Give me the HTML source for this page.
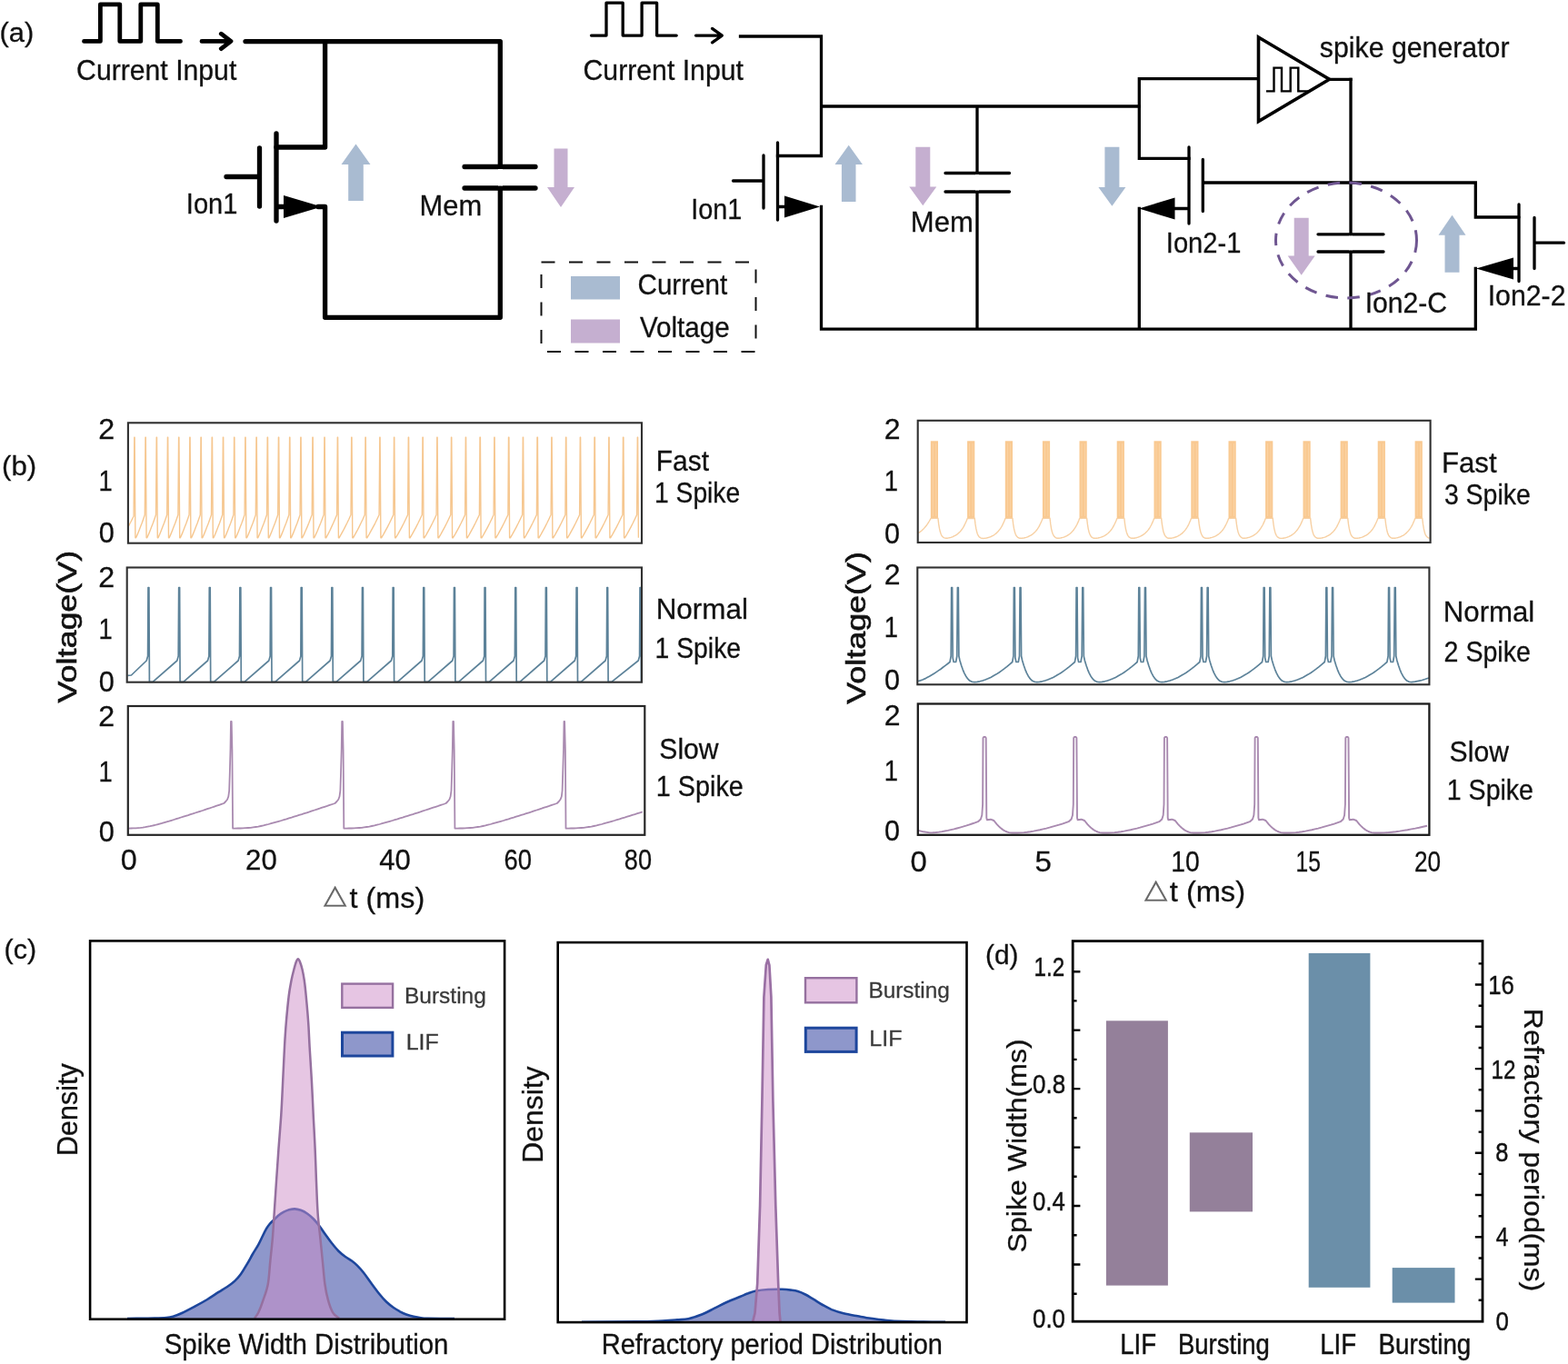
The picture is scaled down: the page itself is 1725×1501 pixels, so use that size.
<!DOCTYPE html>
<html><head><meta charset="utf-8"><title>Figure</title>
<style>
html,body{margin:0;padding:0;background:#fff;}
body{width:1725px;height:1501px;overflow:hidden;}
svg{display:block;font-family:"Liberation Sans","DejaVu Sans",sans-serif;}
</style></head><body>
<svg width="1725" height="1501" viewBox="0 0 1725 1501">
<rect width="1725" height="1501" fill="#fff"/>
<g id="panel-a" stroke-linejoin="miter" stroke-linecap="butt">
<path d="M92.5 45.4H110.4V4.8H131.8V45.4H154.8V4.8H173.3V45.4H198.5" stroke="#000" stroke-width="4.8" fill="none" stroke-linecap="round" stroke-linejoin="round"/>
<path d="M222 45.4H253.5 M243.3 37.2L254 45.4L243.3 53.6" stroke="#000" stroke-width="4.8" fill="none" stroke-linecap="round" stroke-linejoin="round"/>
<path d="M270 45.6H550.3V183.5 M357.6 45.6V162H304 M550.3 207V349.3H357.6V227.5H350" stroke="#000" stroke-width="5.3" fill="none" stroke-linecap="round" stroke-linejoin="round"/>
<path d="M304 147V243 M285.5 163V227 M249 194.5H285.5 M304 227.5H314" stroke="#000" stroke-width="5.3" fill="none" stroke-linecap="round"/>
<path d="M312 215L354 227.5L312 240Z" fill="#000"/>
<path d="M511 183.5H589 M511 207H589" stroke="#000" stroke-width="5.3" fill="none" stroke-linecap="round"/>
<path d="M391.5 158.5L407.5 181.0L399.8 181.0L399.8 221.0L383.2 221.0L383.2 181.0L375.5 181.0Z" fill="#a9bbd1"/>
<path d="M617.0 228.0L632.0 206.0L624.5 206.0L624.5 163.5L609.5 163.5L609.5 206.0L602.0 206.0Z" fill="#c5afd0"/>
<rect x="595.5" y="288.5" width="236" height="98.5" fill="none" stroke="#111" stroke-width="2" stroke-dasharray="15 15.5"/>
<rect x="628" y="304" width="54" height="25.5" fill="#a9bbd1"/>
<rect x="628" y="351.5" width="54" height="26" fill="#c5afd0"/>
<path d="M650.5 39.1H667V3.2H685.2V39.1H706.1V3.2H722.6V39.1H744.2" stroke="#000" stroke-width="3.3" fill="none" stroke-linecap="round" stroke-linejoin="round"/>
<path d="M765.5 39.1H794 M783.5 31.4L794.3 39.1L783.5 46.8" stroke="#000" stroke-width="3.3" fill="none" stroke-linecap="round" stroke-linejoin="round"/>
<path d="M814.5 40H903.5V171.5H855.5 M903.5 117H1253.3 M1075 117V190.5 M1075 211V362.2 M903.5 227.5V362.2H1623.3V295.5 M1253.3 229.5V362.2 M1486 87.3V362.2" stroke="#000" stroke-width="3.3" fill="none" stroke-linecap="square"/>
<path d="M1253.3 174.4V86.7H1384 M1253.3 174.4H1308 M1462 87.3H1486" stroke="#000" stroke-width="3.3" fill="none" stroke-linecap="square"/>
<path d="M855.5 157V242 M840 171V229 M806.5 199H840 M855.5 227.5H865" stroke="#000" stroke-width="3.3" fill="none" stroke-linecap="round"/>
<path d="M863 215.5L902 227.5L863 239.5Z" fill="#000"/>
<path d="M1040 190.5H1110.5 M1040 211H1110.5" stroke="#000" stroke-width="3.3" fill="none" stroke-linecap="round"/>
<path d="M1308 162V246 M1323.3 175.5V232.5 M1323.3 201H1623.3V239H1671 M1292 229.5H1308" stroke="#000" stroke-width="3.3" fill="none" stroke-linecap="round" stroke-linejoin="miter"/>
<path d="M1292.5 217.5L1253 229.5L1292.5 241.5Z" fill="#000"/>
<path d="M1384.5 41L1462.5 87.3L1384.5 133.5Z" stroke="#000" stroke-width="3.6" fill="none" stroke-linejoin="miter"/>
<path d="M1393 100.4H1401.5V74.6H1410V100.4H1419.7V74.6H1428.3V100.4H1439" stroke="#000" stroke-width="2.4" fill="none"/>
<path d="M1450 257.8H1522 M1450 277H1522" stroke="#000" stroke-width="3.3" fill="none" stroke-linecap="round"/>
<rect x="1484" y="259.4" width="4" height="16" fill="#fff"/>
<ellipse cx="1481" cy="264.5" rx="77.5" ry="63.5" fill="none" stroke="#6f5691" stroke-width="3" stroke-dasharray="13.5 10.5"/>
<path d="M1671 225V309.5 M1688 239.5V295.5 M1688 267.2H1720.5 M1664 295.5H1671" stroke="#000" stroke-width="3.3" fill="none" stroke-linecap="round"/>
<path d="M1665 283.5L1624 295.5L1665 307.5Z" fill="#000"/>
<rect x="1073" y="192" width="4" height="17.5" fill="#fff"/>
<rect x="548" y="186" width="5" height="18.5" fill="#fff"/>
<path d="M933.7 159.7L948.9 181.0L941.5 181.0L941.5 222.0L925.9 222.0L925.9 181.0L918.5 181.0Z" fill="#a9bbd1"/>
<path d="M1015.3 226.3L1030.3 205.5L1023.3 205.5L1023.3 161.7L1007.3 161.7L1007.3 205.5L1000.3 205.5Z" fill="#c5afd0"/>
<path d="M1223.4 226.7L1238.4 206.0L1231.4 206.0L1231.4 161.8L1215.4 161.8L1215.4 206.0L1208.4 206.0Z" fill="#a9bbd1"/>
<path d="M1431.7 302.8L1446.7 281.5L1439.7 281.5L1439.7 239.8L1423.7 239.8L1423.7 281.5L1416.7 281.5Z" fill="#c5afd0"/>
<path d="M1597.5 236.8L1612.5 258.7L1605.5 258.7L1605.5 299.8L1589.5 299.8L1589.5 258.7L1582.5 258.7Z" fill="#a9bbd1"/>
<text x="-0.5" y="46.4" font-size="29.6" textLength="37.8" lengthAdjust="spacingAndGlyphs" fill="#111" stroke="#111" stroke-width="0.3">(a)</text>
<text x="84.1" y="88.0" font-size="30.7" textLength="176.2" lengthAdjust="spacingAndGlyphs" fill="#111" stroke="#111" stroke-width="0.3">Current Input</text>
<text x="204.8" y="235.0" font-size="30.7" textLength="56.6" lengthAdjust="spacingAndGlyphs" fill="#111" stroke="#111" stroke-width="0.3">Ion1</text>
<text x="461.5" y="237.2" font-size="30.7" textLength="68.6" lengthAdjust="spacingAndGlyphs" fill="#111" stroke="#111" stroke-width="0.3">Mem</text>
<text x="701.5" y="323.7" font-size="30.7" textLength="98.7" lengthAdjust="spacingAndGlyphs" fill="#111" stroke="#111" stroke-width="0.3">Current</text>
<text x="703.9" y="371.3" font-size="30.7" textLength="98.8" lengthAdjust="spacingAndGlyphs" fill="#111" stroke="#111" stroke-width="0.3">Voltage</text>
<text x="641.5" y="87.7" font-size="30.7" textLength="176.4" lengthAdjust="spacingAndGlyphs" fill="#111" stroke="#111" stroke-width="0.3">Current Input</text>
<text x="760.3" y="240.5" font-size="30.7" textLength="56.1" lengthAdjust="spacingAndGlyphs" fill="#111" stroke="#111" stroke-width="0.3">Ion1</text>
<text x="1001.8" y="255.0" font-size="30.7" textLength="69.0" lengthAdjust="spacingAndGlyphs" fill="#111" stroke="#111" stroke-width="0.3">Mem</text>
<text x="1451.8" y="63.3" font-size="30.7" textLength="208.7" lengthAdjust="spacingAndGlyphs" fill="#111" stroke="#111" stroke-width="0.3">spike generator</text>
<text x="1282.8" y="277.6" font-size="30.7" textLength="82.6" lengthAdjust="spacingAndGlyphs" fill="#111" stroke="#111" stroke-width="0.3">Ion2-1</text>
<text x="1501.7" y="344.0" font-size="30.7" textLength="90.4" lengthAdjust="spacingAndGlyphs" fill="#111" stroke="#111" stroke-width="0.3">Ion2-C</text>
<text x="1636.7" y="336.3" font-size="30.7" textLength="85.8" lengthAdjust="spacingAndGlyphs" fill="#111" stroke="#111" stroke-width="0.3">Ion2-2</text>
</g>
<g id="panel-b">
<path d="M141.5 579.0L147.1 568.0L147.8 481.3L148.1 481.3L148.9 591.8L149.6 591.8L151.2 588.1L152.8 584.2L154.4 580.1L156.1 575.8L157.7 571.2L159.3 566.5L160.0 481.3L160.3 481.3L161.1 591.8L161.8 591.8L163.4 588.1L165.0 584.2L166.6 580.1L168.3 575.8L169.9 571.2L171.5 566.5L172.2 481.3L172.5 481.3L173.3 591.8L174.0 591.8L175.6 588.1L177.2 584.2L178.8 580.1L180.5 575.8L182.1 571.2L183.7 566.5L184.4 481.3L184.7 481.3L185.5 591.8L186.2 591.8L187.8 588.1L189.4 584.2L191.0 580.1L192.7 575.8L194.3 571.2L195.9 566.5L196.6 481.3L196.9 481.3L197.7 591.8L198.4 591.8L200.0 588.1L201.6 584.2L203.2 580.1L204.9 575.8L206.5 571.2L208.1 566.5L208.8 481.3L209.1 481.3L209.9 591.8L210.6 591.8L212.2 588.1L213.8 584.2L215.4 580.1L217.1 575.8L218.7 571.2L220.3 566.5L221.0 481.3L221.3 481.3L222.1 591.8L222.8 591.8L224.4 588.1L226.0 584.2L227.6 580.1L229.3 575.8L230.9 571.2L232.5 566.5L233.2 481.3L233.5 481.3L234.3 591.8L235.0 591.8L236.6 588.1L238.2 584.2L239.8 580.1L241.5 575.8L243.1 571.2L244.7 566.5L245.4 481.3L245.7 481.3L246.5 591.8L247.2 591.8L248.8 588.1L250.4 584.2L252.0 580.1L253.7 575.8L255.3 571.2L256.9 566.5L257.6 481.3L257.9 481.3L258.7 591.8L259.4 591.8L261.0 588.1L262.6 584.2L264.2 580.1L265.9 575.8L267.5 571.2L269.1 566.5L269.8 481.3L270.1 481.3L270.9 591.8L271.6 591.8L273.2 588.1L274.8 584.2L276.4 580.1L278.1 575.8L279.7 571.2L281.3 566.5L282.0 481.3L282.3 481.3L283.1 591.8L283.8 591.8L285.4 588.1L287.0 584.2L288.6 580.1L290.3 575.8L291.9 571.2L293.5 566.5L294.2 481.3L294.5 481.3L295.3 591.8L296.0 591.8L297.6 588.1L299.2 584.2L300.8 580.1L302.5 575.8L304.1 571.2L305.7 566.5L306.4 481.3L306.7 481.3L307.5 591.8L308.2 591.8L309.8 588.1L311.4 584.2L313.0 580.1L314.7 575.8L316.3 571.2L317.9 566.5L318.6 481.3L318.9 481.3L319.7 591.8L320.4 591.8L322.0 588.1L323.6 584.2L325.2 580.1L326.9 575.8L328.5 571.2L330.1 566.5L330.8 481.3L331.1 481.3L331.9 591.8L332.6 591.8L334.4 588.1L336.1 584.2L337.9 580.1L339.7 575.8L341.4 571.2L343.2 566.5L343.9 481.3L344.2 481.3L345.0 591.8L345.7 591.8L347.4 588.1L349.2 584.2L350.9 580.1L352.7 575.8L354.4 571.2L356.2 566.5L356.9 481.3L357.2 481.3L358.0 591.8L358.7 591.8L360.7 588.1L362.7 584.2L364.6 580.1L366.6 575.8L368.6 571.2L370.6 566.5L371.3 481.3L371.6 481.3L372.4 591.8L373.1 591.8L375.2 588.1L377.4 584.2L379.5 580.1L381.7 575.8L383.9 571.2L386.0 566.5L386.7 481.3L387.0 481.3L387.8 591.8L388.5 591.8L390.6 588.1L392.8 584.2L394.9 580.1L397.0 575.8L399.2 571.2L401.3 566.5L402.0 481.3L402.3 481.3L403.1 591.8L403.8 591.8L406.0 588.1L408.2 584.2L410.4 580.1L412.7 575.8L414.9 571.2L417.1 566.5L417.8 481.3L418.1 481.3L418.9 591.8L419.6 591.8L421.8 588.1L424.0 584.2L426.2 580.1L428.4 575.8L430.6 571.2L432.8 566.5L433.5 481.3L433.8 481.3L434.6 591.8L435.3 591.8L437.6 588.1L439.8 584.2L442.0 580.1L444.2 575.8L446.4 571.2L448.6 566.5L449.3 481.3L449.6 481.3L450.4 591.8L451.1 591.8L453.3 588.1L455.5 584.2L457.7 580.1L459.9 575.8L462.1 571.2L464.3 566.5L465.0 481.3L465.3 481.3L466.1 591.8L466.8 591.8L469.1 588.1L471.3 584.2L473.5 580.1L475.7 575.8L477.9 571.2L480.1 566.5L480.8 481.3L481.1 481.3L481.9 591.8L482.6 591.8L484.8 588.1L487.0 584.2L489.2 580.1L491.4 575.8L493.6 571.2L495.8 566.5L496.5 481.3L496.8 481.3L497.6 591.8L498.3 591.8L500.6 588.1L502.8 584.2L505.0 580.1L507.2 575.8L509.4 571.2L511.6 566.5L512.3 481.3L512.6 481.3L513.4 591.8L514.1 591.8L516.3 588.1L518.5 584.2L520.7 580.1L522.9 575.8L525.1 571.2L527.4 566.5L528.0 481.3L528.4 481.3L529.1 591.8L529.9 591.8L532.1 588.1L534.3 584.2L536.5 580.1L538.7 575.8L540.9 571.2L543.1 566.5L543.8 481.3L544.1 481.3L544.9 591.8L545.6 591.8L547.8 588.1L550.0 584.2L552.2 580.1L554.4 575.8L556.6 571.2L558.9 566.5L559.5 481.3L559.9 481.3L560.6 591.8L561.4 591.8L563.6 588.1L565.8 584.2L568.0 580.1L570.2 575.8L572.4 571.2L574.6 566.5L575.3 481.3L575.6 481.3L576.4 591.8L577.1 591.8L579.3 588.1L581.5 584.2L583.7 580.1L585.9 575.8L588.1 571.2L590.4 566.5L591.0 481.3L591.4 481.3L592.1 591.8L592.9 591.8L595.1 588.1L597.3 584.2L599.5 580.1L601.7 575.8L603.9 571.2L606.1 566.5L606.8 481.3L607.1 481.3L607.9 591.8L608.6 591.8L610.8 588.1L613.0 584.2L615.2 580.1L617.4 575.8L619.6 571.2L621.9 566.5L622.5 481.3L622.9 481.3L623.6 591.8L624.4 591.8L626.6 588.1L628.8 584.2L631.0 580.1L633.2 575.8L635.4 571.2L637.6 566.5L638.3 481.3L638.6 481.3L639.4 591.8L640.1 591.8L642.3 588.1L644.5 584.2L646.7 580.1L648.9 575.8L651.1 571.2L653.4 566.5L654.0 481.3L654.4 481.3L655.1 591.8L655.9 591.8L658.1 588.1L660.3 584.2L662.5 580.1L664.7 575.8L666.9 571.2L669.1 566.5L669.8 481.3L670.1 481.3L670.9 591.8L671.6 591.8L673.8 588.1L676.0 584.2L678.2 580.1L680.4 575.8L682.6 571.2L684.9 566.5L685.5 481.3L685.9 481.3L686.6 591.8L687.4 591.8L689.6 588.1L691.8 584.2L694.0 580.1L696.2 575.8L698.4 571.2L700.6 566.5L701.3 481.3L701.6 481.3L702.4 591.8" fill="none" stroke="#f6c790" stroke-width="1.4" stroke-linejoin="round"/>
<rect x="140.9" y="465.3" width="565.1" height="132.4" fill="none" stroke="#303030" stroke-width="2.1"/>
<path d="M140.5 743.3L144.5 743.0L161.2 727.0L162.6 722.0L163.0 646.5L163.9 646.5L164.4 750.3L164.6 750.3L168.1 750.3L194.8 727.0L196.2 722.0L196.7 646.5L197.6 646.5L198.1 750.3L198.2 750.3L201.8 750.3L228.5 727.0L229.9 722.0L230.3 646.5L231.2 646.5L231.7 750.3L231.9 750.3L235.4 750.3L262.1 727.0L263.5 722.0L263.9 646.5L264.8 646.5L265.3 750.3L265.5 750.3L269.0 750.3L295.8 727.0L297.2 722.0L297.6 646.5L298.5 646.5L299.0 750.3L299.2 750.3L302.7 750.3L329.5 727.0L330.9 722.0L331.2 646.5L332.2 646.5L332.7 750.3L332.9 750.3L336.4 750.3L363.1 727.0L364.5 722.0L364.9 646.5L365.8 646.5L366.3 750.3L366.5 750.3L370.0 750.3L396.8 727.0L398.1 722.0L398.5 646.5L399.4 646.5L399.9 750.3L400.1 750.3L403.6 750.3L430.4 727.0L431.8 722.0L432.2 646.5L433.1 646.5L433.6 750.3L433.8 750.3L437.3 750.3L464.0 727.0L465.4 722.0L465.8 646.5L466.7 646.5L467.2 750.3L467.4 750.3L470.9 750.3L497.7 727.0L499.1 722.0L499.5 646.5L500.4 646.5L500.9 750.3L501.1 750.3L504.6 750.3L531.4 727.0L532.8 722.0L533.1 646.5L534.0 646.5L534.5 750.3L534.8 750.3L538.2 750.3L565.0 727.0L566.4 722.0L566.8 646.5L567.7 646.5L568.2 750.3L568.4 750.3L571.9 750.3L598.6 727.0L600.0 722.0L600.4 646.5L601.3 646.5L601.8 750.3L602.0 750.3L605.5 750.3L632.3 727.0L633.7 722.0L634.1 646.5L635.0 646.5L635.5 750.3L635.7 750.3L639.2 750.3L666.0 727.0L667.4 722.0L667.8 646.5L668.6 646.5L669.1 750.3L669.4 750.3L672.9 750.3L702.2 727.0L703.6 722.0L704.0 646.5L704.9 646.5L705.4 750.3" fill="none" stroke="#5c8299" stroke-width="1.7" stroke-linejoin="round"/>
<rect x="139.7" y="624.5" width="566.3" height="126.2" fill="none" stroke="#303030" stroke-width="2.1"/>
<path d="M141.5 911.6L144.1 911.5L146.7 911.4L149.4 911.3L152.0 911.1L154.6 910.9L157.2 910.6L159.8 910.2L162.5 909.7L165.1 909.2L167.7 908.6L170.3 908.0L172.9 907.3L175.6 906.6L178.2 905.9L180.8 905.1L183.4 904.3L186.0 903.6L188.7 902.8L191.3 902.0L193.9 901.2L196.5 900.4L199.1 899.5L201.8 898.7L204.4 897.9L207.0 897.1L209.6 896.2L212.2 895.4L214.9 894.5L217.5 893.7L220.1 892.8L222.7 892.0L225.3 891.1L228.0 890.2L230.6 889.4L233.2 888.5L235.8 887.6L238.4 886.7L241.1 885.8L243.7 884.9L246.3 884.0L248.3 882.0L250.1 879.8L251.3 876.5L252.2 870.0L252.8 851.0L253.5 825.0L254.0 794.0L254.7 794.0L255.4 825.0L256.1 911.6L256.1 911.6L258.9 911.6L261.7 911.5L264.5 911.5L267.3 911.4L270.1 911.2L273.0 911.0L275.8 910.8L278.6 910.4L281.4 910.0L284.2 909.6L287.0 909.0L289.8 908.4L292.6 907.7L295.4 907.0L298.2 906.2L301.0 905.4L303.8 904.6L306.7 903.8L309.5 903.0L312.3 902.1L315.1 901.3L317.9 900.4L320.7 899.6L323.5 898.7L326.3 897.8L329.1 896.9L331.9 896.1L334.7 895.2L337.6 894.3L340.4 893.4L343.2 892.4L346.0 891.5L348.8 890.6L351.6 889.7L354.4 888.7L357.2 887.8L360.0 886.9L362.8 885.9L365.6 885.0L368.5 884.0L370.5 882.0L372.3 879.8L373.5 876.5L374.4 870.0L375.0 851.0L375.7 825.0L376.2 794.0L376.9 794.0L377.6 825.0L378.3 911.6L378.3 911.6L381.1 911.6L383.9 911.5L386.7 911.5L389.5 911.4L392.3 911.2L395.1 911.0L397.9 910.8L400.7 910.4L403.5 910.0L406.3 909.6L409.1 909.0L412.0 908.4L414.8 907.7L417.6 907.0L420.4 906.2L423.2 905.4L426.0 904.6L428.8 903.8L431.6 903.0L434.4 902.1L437.2 901.3L440.0 900.4L442.9 899.6L445.7 898.7L448.5 897.8L451.3 896.9L454.1 896.1L456.9 895.2L459.7 894.3L462.5 893.4L465.3 892.4L468.1 891.5L470.9 890.6L473.7 889.7L476.6 888.7L479.4 887.8L482.2 886.9L485.0 885.9L487.8 885.0L490.6 884.0L492.6 882.0L494.4 879.8L495.6 876.5L496.5 870.0L497.1 851.0L497.8 825.0L498.3 794.0L499.0 794.0L499.7 825.0L500.4 911.6L500.4 911.6L503.2 911.6L506.0 911.5L508.8 911.5L511.6 911.4L514.4 911.2L517.3 911.0L520.1 910.8L522.9 910.4L525.7 910.0L528.5 909.6L531.3 909.0L534.1 908.4L536.9 907.7L539.7 907.0L542.5 906.2L545.3 905.4L548.1 904.6L551.0 903.8L553.8 903.0L556.6 902.1L559.4 901.3L562.2 900.4L565.0 899.6L567.8 898.7L570.6 897.8L573.4 896.9L576.2 896.1L579.0 895.2L581.9 894.3L584.7 893.4L587.5 892.4L590.3 891.5L593.1 890.6L595.9 889.7L598.7 888.7L601.5 887.8L604.3 886.9L607.1 885.9L609.9 885.0L612.8 884.0L614.8 882.0L616.5 879.8L617.8 876.5L618.6 870.0L619.2 851.0L620.0 825.0L620.5 794.0L621.1 794.0L621.9 825.0L622.5 911.6L622.5 911.6L625.4 911.6L628.2 911.5L631.0 911.5L633.8 911.4L636.6 911.2L639.4 911.0L642.2 910.8L645.0 910.4L647.8 910.0L650.6 909.6L653.4 909.0L656.3 908.4L659.1 907.7L661.9 907.0L664.7 906.2L667.5 905.4L670.3 904.6L673.1 903.8L675.9 903.0L678.7 902.1L681.5 901.3L684.3 900.4L687.2 899.6L690.0 898.7L692.8 897.8L695.6 896.9L698.4 896.1L701.2 895.2L704.0 894.3L706.8 893.4" fill="none" stroke="#a98ab0" stroke-width="1.8" stroke-linejoin="round"/>
<rect x="140.8" y="777.0" width="568.5" height="141.8" fill="none" stroke="#262626" stroke-width="2.2"/>
<rect x="1023.8" y="485.3" width="8.2" height="85.2" fill="#f9c991"/>
<path d="M1026.3 488V568M1029.8 488V568" stroke="#fbd5a8" stroke-width="0.8" fill="none"/>
<rect x="1064.1" y="485.3" width="8.2" height="85.2" fill="#f9c991"/>
<path d="M1066.6 488V568M1070.1 488V568" stroke="#fbd5a8" stroke-width="0.8" fill="none"/>
<rect x="1105.8" y="485.3" width="8.2" height="85.2" fill="#f9c991"/>
<path d="M1108.3 488V568M1111.8 488V568" stroke="#fbd5a8" stroke-width="0.8" fill="none"/>
<rect x="1146.9" y="485.3" width="8.2" height="85.2" fill="#f9c991"/>
<path d="M1149.4 488V568M1152.9 488V568" stroke="#fbd5a8" stroke-width="0.8" fill="none"/>
<rect x="1187.5" y="485.3" width="8.2" height="85.2" fill="#f9c991"/>
<path d="M1190.0 488V568M1193.5 488V568" stroke="#fbd5a8" stroke-width="0.8" fill="none"/>
<rect x="1228.7" y="485.3" width="8.2" height="85.2" fill="#f9c991"/>
<path d="M1231.2 488V568M1234.7 488V568" stroke="#fbd5a8" stroke-width="0.8" fill="none"/>
<rect x="1269.5" y="485.3" width="8.2" height="85.2" fill="#f9c991"/>
<path d="M1272.0 488V568M1275.5 488V568" stroke="#fbd5a8" stroke-width="0.8" fill="none"/>
<rect x="1310.3" y="485.3" width="8.2" height="85.2" fill="#f9c991"/>
<path d="M1312.8 488V568M1316.3 488V568" stroke="#fbd5a8" stroke-width="0.8" fill="none"/>
<rect x="1351.5" y="485.3" width="8.2" height="85.2" fill="#f9c991"/>
<path d="M1354.0 488V568M1357.5 488V568" stroke="#fbd5a8" stroke-width="0.8" fill="none"/>
<rect x="1392.1" y="485.3" width="8.2" height="85.2" fill="#f9c991"/>
<path d="M1394.6 488V568M1398.1 488V568" stroke="#fbd5a8" stroke-width="0.8" fill="none"/>
<rect x="1433.5" y="485.3" width="8.2" height="85.2" fill="#f9c991"/>
<path d="M1436.0 488V568M1439.5 488V568" stroke="#fbd5a8" stroke-width="0.8" fill="none"/>
<rect x="1474.6" y="485.3" width="8.2" height="85.2" fill="#f9c991"/>
<path d="M1477.1 488V568M1480.6 488V568" stroke="#fbd5a8" stroke-width="0.8" fill="none"/>
<rect x="1515.7" y="485.3" width="8.2" height="85.2" fill="#f9c991"/>
<path d="M1518.2 488V568M1521.7 488V568" stroke="#fbd5a8" stroke-width="0.8" fill="none"/>
<rect x="1556.6" y="485.3" width="8.2" height="85.2" fill="#f9c991"/>
<path d="M1559.1 488V568M1562.6 488V568" stroke="#fbd5a8" stroke-width="0.8" fill="none"/>
<path d="M1010.5 586.5L1011.3 585.9L1012.1 585.4L1012.9 584.8L1013.7 584.2L1014.4 583.5L1015.2 582.7L1016.0 582.0L1016.8 581.1L1017.6 580.2L1018.4 579.3L1019.2 578.3L1020.0 577.2L1020.7 576.1L1021.5 574.8L1022.3 573.5L1023.1 572.1L1023.9 570.6L1031.9 570.1L1032.7 576.9L1033.5 581.7L1034.3 585.1L1035.1 587.4L1035.8 589.1L1036.6 590.3L1037.4 591.0L1038.2 591.6L1039.0 591.9L1039.8 592.1L1040.6 592.2L1041.4 592.2L1042.1 592.2L1042.9 592.1L1043.7 591.9L1044.5 591.8L1045.3 591.6L1046.1 591.4L1046.9 591.1L1047.7 590.8L1048.4 590.5L1049.2 590.1L1050.0 589.7L1050.8 589.3L1051.6 588.8L1052.4 588.3L1053.2 587.8L1054.0 587.1L1054.7 586.4L1055.5 585.7L1056.3 584.9L1057.1 584.0L1057.9 583.0L1058.7 581.9L1059.5 580.7L1060.3 579.4L1061.0 577.9L1061.8 576.3L1062.6 574.6L1063.4 572.7L1064.2 570.6L1072.2 570.2L1073.0 576.9L1073.8 581.7L1074.6 585.1L1075.3 587.5L1076.1 589.2L1076.9 590.4L1077.7 591.2L1078.5 591.7L1079.3 592.1L1080.0 592.3L1080.8 592.4L1081.6 592.5L1082.4 592.4L1083.2 592.4L1084.0 592.3L1084.7 592.1L1085.5 592.0L1086.3 591.8L1087.1 591.6L1087.9 591.3L1088.7 591.1L1089.4 590.8L1090.2 590.5L1091.0 590.1L1091.8 589.7L1092.6 589.3L1093.4 588.8L1094.1 588.3L1094.9 587.7L1095.7 587.1L1096.5 586.4L1097.3 585.6L1098.1 584.8L1098.8 583.9L1099.6 582.9L1100.4 581.8L1101.2 580.6L1102.0 579.3L1102.8 577.9L1103.5 576.3L1104.3 574.6L1105.1 572.7L1105.9 570.6L1113.9 570.1L1114.7 576.9L1115.5 581.7L1116.3 585.1L1117.1 587.5L1117.8 589.2L1118.6 590.3L1119.4 591.1L1120.2 591.7L1121.0 592.0L1121.8 592.2L1122.6 592.3L1123.4 592.4L1124.1 592.3L1124.9 592.2L1125.7 592.1L1126.5 592.0L1127.3 591.8L1128.1 591.6L1128.9 591.4L1129.7 591.1L1130.5 590.8L1131.2 590.5L1132.0 590.1L1132.8 589.7L1133.6 589.3L1134.4 588.8L1135.2 588.3L1136.0 587.8L1136.8 587.1L1137.5 586.4L1138.3 585.7L1139.1 584.9L1139.9 584.0L1140.7 583.0L1141.5 581.9L1142.3 580.7L1143.1 579.4L1143.8 577.9L1144.6 576.3L1145.4 574.6L1146.2 572.7L1147.0 570.6L1155.0 570.1L1155.8 576.9L1156.6 581.8L1157.4 585.2L1158.2 587.5L1159.0 589.2L1159.8 590.3L1160.6 591.1L1161.4 591.6L1162.2 592.0L1163.0 592.2L1163.7 592.2L1164.5 592.3L1165.3 592.2L1166.1 592.1L1166.9 592.0L1167.7 591.8L1168.5 591.6L1169.3 591.4L1170.1 591.2L1170.9 590.9L1171.7 590.5L1172.5 590.2L1173.3 589.8L1174.1 589.4L1174.9 588.9L1175.7 588.4L1176.5 587.8L1177.3 587.2L1178.1 586.5L1178.9 585.8L1179.6 584.9L1180.4 584.0L1181.2 583.0L1182.0 581.9L1182.8 580.7L1183.6 579.4L1184.4 578.0L1185.2 576.4L1186.0 574.6L1186.8 572.7L1187.6 570.6L1195.6 570.1L1196.4 576.9L1197.2 581.8L1198.0 585.2L1198.8 587.5L1199.6 589.2L1200.3 590.4L1201.1 591.2L1201.9 591.7L1202.7 592.0L1203.5 592.2L1204.3 592.3L1205.1 592.4L1205.9 592.3L1206.7 592.3L1207.5 592.1L1208.2 592.0L1209.0 591.8L1209.8 591.6L1210.6 591.4L1211.4 591.1L1212.2 590.8L1213.0 590.5L1213.8 590.2L1214.6 589.8L1215.4 589.3L1216.2 588.9L1216.9 588.3L1217.7 587.8L1218.5 587.2L1219.3 586.5L1220.1 585.7L1220.9 584.9L1221.7 584.0L1222.5 583.0L1223.3 581.9L1224.1 580.7L1224.8 579.4L1225.6 577.9L1226.4 576.3L1227.2 574.6L1228.0 572.7L1228.8 570.6L1236.8 570.1L1237.6 577.0L1238.4 581.8L1239.2 585.2L1240.0 587.6L1240.8 589.3L1241.6 590.4L1242.4 591.2L1243.2 591.7L1244.0 592.0L1244.8 592.2L1245.6 592.3L1246.4 592.3L1247.2 592.3L1248.0 592.2L1248.8 592.0L1249.6 591.9L1250.4 591.7L1251.2 591.4L1252.0 591.2L1252.8 590.9L1253.6 590.6L1254.4 590.2L1255.2 589.9L1256.0 589.4L1256.8 589.0L1257.6 588.4L1258.4 587.9L1259.2 587.3L1260.0 586.6L1260.8 585.8L1261.6 585.0L1262.4 584.1L1263.2 583.1L1264.0 582.0L1264.8 580.8L1265.6 579.5L1266.4 578.0L1267.2 576.4L1268.0 574.6L1268.8 572.7L1269.6 570.6L1277.6 570.1L1278.4 576.8L1279.2 581.6L1279.9 585.0L1280.7 587.4L1281.5 589.1L1282.3 590.3L1283.1 591.1L1283.8 591.6L1284.6 592.0L1285.4 592.2L1286.2 592.3L1287.0 592.3L1287.8 592.3L1288.5 592.2L1289.3 592.1L1290.1 591.9L1290.9 591.8L1291.7 591.5L1292.4 591.3L1293.2 591.0L1294.0 590.8L1294.8 590.4L1295.6 590.1L1296.3 589.7L1297.1 589.2L1297.9 588.8L1298.7 588.2L1299.5 587.7L1300.2 587.1L1301.0 586.4L1301.8 585.6L1302.6 584.8L1303.4 583.9L1304.2 582.9L1304.9 581.8L1305.7 580.6L1306.5 579.3L1307.3 577.9L1308.1 576.3L1308.8 574.6L1309.6 572.7L1310.4 570.6L1318.4 570.1L1319.2 576.9L1320.0 581.8L1320.8 585.2L1321.6 587.5L1322.4 589.2L1323.1 590.4L1323.9 591.2L1324.7 591.7L1325.5 592.0L1326.3 592.2L1327.1 592.3L1327.9 592.4L1328.7 592.3L1329.5 592.3L1330.3 592.1L1331.0 592.0L1331.8 591.8L1332.6 591.6L1333.4 591.4L1334.2 591.1L1335.0 590.8L1335.8 590.5L1336.6 590.2L1337.4 589.8L1338.2 589.3L1339.0 588.9L1339.7 588.3L1340.5 587.8L1341.3 587.2L1342.1 586.5L1342.9 585.7L1343.7 584.9L1344.5 584.0L1345.3 583.0L1346.1 581.9L1346.9 580.7L1347.6 579.4L1348.4 577.9L1349.2 576.3L1350.0 574.6L1350.8 572.7L1351.6 570.6L1359.6 570.1L1360.4 576.9L1361.2 581.8L1362.0 585.2L1362.8 587.5L1363.6 589.2L1364.4 590.3L1365.2 591.1L1366.0 591.6L1366.8 592.0L1367.6 592.2L1368.3 592.2L1369.1 592.3L1369.9 592.2L1370.7 592.1L1371.5 592.0L1372.3 591.8L1373.1 591.6L1373.9 591.4L1374.7 591.2L1375.5 590.9L1376.3 590.5L1377.1 590.2L1377.9 589.8L1378.7 589.4L1379.5 588.9L1380.3 588.4L1381.1 587.8L1381.9 587.2L1382.7 586.5L1383.5 585.8L1384.2 584.9L1385.0 584.0L1385.8 583.0L1386.6 581.9L1387.4 580.7L1388.2 579.4L1389.0 578.0L1389.8 576.4L1390.6 574.6L1391.4 572.7L1392.2 570.6L1400.2 570.1L1401.0 577.0L1401.8 581.8L1402.6 585.2L1403.4 587.6L1404.2 589.3L1405.0 590.4L1405.8 591.2L1406.6 591.7L1407.4 592.1L1408.2 592.3L1408.9 592.4L1409.7 592.4L1410.5 592.4L1411.3 592.3L1412.1 592.2L1412.9 592.0L1413.7 591.9L1414.5 591.7L1415.3 591.4L1416.1 591.2L1416.9 590.9L1417.7 590.6L1418.5 590.2L1419.3 589.8L1420.1 589.4L1420.9 588.9L1421.7 588.4L1422.5 587.8L1423.3 587.2L1424.1 586.5L1424.9 585.8L1425.6 584.9L1426.4 584.0L1427.2 583.0L1428.0 581.9L1428.8 580.7L1429.6 579.4L1430.4 578.0L1431.2 576.4L1432.0 574.6L1432.8 572.7L1433.6 570.6L1441.6 570.1L1442.4 576.9L1443.2 581.7L1444.0 585.1L1444.8 587.5L1445.5 589.2L1446.3 590.3L1447.1 591.1L1447.9 591.7L1448.7 592.0L1449.5 592.2L1450.3 592.3L1451.1 592.4L1451.8 592.3L1452.6 592.2L1453.4 592.1L1454.2 592.0L1455.0 591.8L1455.8 591.6L1456.6 591.4L1457.4 591.1L1458.2 590.8L1458.9 590.5L1459.7 590.1L1460.5 589.7L1461.3 589.3L1462.1 588.8L1462.9 588.3L1463.7 587.8L1464.5 587.1L1465.2 586.4L1466.0 585.7L1466.8 584.9L1467.6 584.0L1468.4 583.0L1469.2 581.9L1470.0 580.7L1470.8 579.4L1471.5 577.9L1472.3 576.3L1473.1 574.6L1473.9 572.7L1474.7 570.6L1482.7 570.1L1483.5 576.9L1484.3 581.7L1485.1 585.1L1485.9 587.5L1486.6 589.2L1487.4 590.3L1488.2 591.1L1489.0 591.7L1489.8 592.0L1490.6 592.2L1491.4 592.3L1492.2 592.4L1492.9 592.3L1493.7 592.2L1494.5 592.1L1495.3 592.0L1496.1 591.8L1496.9 591.6L1497.7 591.4L1498.5 591.1L1499.2 590.8L1500.0 590.5L1500.8 590.1L1501.6 589.7L1502.4 589.3L1503.2 588.8L1504.0 588.3L1504.8 587.8L1505.6 587.1L1506.3 586.4L1507.1 585.7L1507.9 584.9L1508.7 584.0L1509.5 583.0L1510.3 581.9L1511.1 580.7L1511.9 579.4L1512.6 577.9L1513.4 576.3L1514.2 574.6L1515.0 572.7L1515.8 570.6L1523.8 570.1L1524.6 576.9L1525.4 581.7L1526.1 585.1L1526.9 587.4L1527.7 589.1L1528.5 590.3L1529.3 591.1L1530.1 591.6L1530.8 592.0L1531.6 592.2L1532.4 592.3L1533.2 592.3L1534.0 592.3L1534.8 592.2L1535.5 592.1L1536.3 591.9L1537.1 591.8L1537.9 591.6L1538.7 591.3L1539.5 591.1L1540.2 590.8L1541.0 590.5L1541.8 590.1L1542.6 589.7L1543.4 589.3L1544.2 588.8L1545.0 588.3L1545.7 587.7L1546.5 587.1L1547.3 586.4L1548.1 585.6L1548.9 584.8L1549.7 583.9L1550.4 582.9L1551.2 581.8L1552.0 580.6L1552.8 579.3L1553.6 577.9L1554.4 576.3L1555.1 574.6L1555.9 572.7L1556.7 570.6L1564.7 570.1L1565.5 576.9L1566.3 581.7L1567.1 585.1L1567.8 587.5L1568.6 589.2L1569.4 590.3L1570.2 591.1L1571.0 591.6L1571.8 592.0L1572.6 592.2" fill="none" stroke="#f7d0a3" stroke-width="1.4" stroke-linejoin="round"/>
<rect x="1009.7" y="462.8" width="563.9" height="134.2" fill="none" stroke="#303030" stroke-width="2.1"/>
<path d="M1010.0 749.5L1012.5 748.9L1015.0 748.0L1017.5 746.9L1020.0 745.6L1022.5 744.3L1025.0 742.8L1027.5 741.3L1030.0 739.6L1032.5 737.9L1035.0 736.2L1037.5 734.3L1040.0 732.4L1042.5 730.5L1045.0 728.5L1046.2 722.0L1046.7 646.5L1047.6 646.5L1048.2 724.0L1049.2 728.5L1051.6 728.5L1052.8 722.0L1053.4 646.5L1054.3 646.5L1054.9 722.0L1056.0 727.0L1057.6 732.3L1059.2 736.8L1060.8 740.6L1062.4 743.7L1064.0 746.1L1065.6 748.0L1067.2 749.3L1068.8 750.1L1070.4 750.5L1072.0 750.6L1075.0 750.4L1078.0 749.8L1080.9 749.0L1083.9 748.0L1086.9 746.8L1089.9 745.4L1092.8 743.8L1095.8 742.1L1098.8 740.2L1101.8 738.1L1104.8 735.9L1107.7 733.6L1110.7 731.1L1113.7 728.5L1114.9 722.0L1115.4 646.5L1116.3 646.5L1116.9 724.0L1117.9 728.5L1120.3 728.5L1121.5 722.0L1122.1 646.5L1123.0 646.5L1123.6 722.0L1124.7 727.0L1126.3 732.3L1127.9 736.8L1129.5 740.6L1131.1 743.7L1132.7 746.1L1134.3 748.0L1135.9 749.3L1137.5 750.1L1139.1 750.5L1140.7 750.6L1143.7 750.4L1146.7 749.8L1149.6 749.0L1152.6 748.0L1155.6 746.8L1158.6 745.4L1161.6 743.8L1164.5 742.1L1167.5 740.2L1170.5 738.1L1173.5 735.9L1176.4 733.6L1179.4 731.1L1182.4 728.5L1183.6 722.0L1184.1 646.5L1185.0 646.5L1185.6 724.0L1186.6 728.5L1189.0 728.5L1190.2 722.0L1190.8 646.5L1191.7 646.5L1192.3 722.0L1193.4 727.0L1195.0 732.3L1196.6 736.8L1198.2 740.6L1199.8 743.7L1201.4 746.1L1203.0 748.0L1204.6 749.3L1206.2 750.1L1207.8 750.5L1209.4 750.6L1212.4 750.4L1215.4 749.8L1218.3 749.0L1221.3 748.0L1224.3 746.8L1227.3 745.4L1230.2 743.8L1233.2 742.1L1236.2 740.2L1239.2 738.1L1242.2 735.9L1245.1 733.6L1248.1 731.1L1251.1 728.5L1252.3 722.0L1252.8 646.5L1253.7 646.5L1254.3 724.0L1255.3 728.5L1257.7 728.5L1258.9 722.0L1259.5 646.5L1260.4 646.5L1261.0 722.0L1262.1 727.0L1263.7 732.3L1265.3 736.8L1266.9 740.6L1268.5 743.7L1270.1 746.1L1271.7 748.0L1273.3 749.3L1274.9 750.1L1276.5 750.5L1278.1 750.6L1281.1 750.4L1284.1 749.8L1287.0 749.0L1290.0 748.0L1293.0 746.8L1296.0 745.4L1298.9 743.8L1301.9 742.1L1304.9 740.2L1307.9 738.1L1310.9 735.9L1313.8 733.6L1316.8 731.1L1319.8 728.5L1321.0 722.0L1321.5 646.5L1322.4 646.5L1323.0 724.0L1324.0 728.5L1326.4 728.5L1327.6 722.0L1328.2 646.5L1329.1 646.5L1329.7 722.0L1330.8 727.0L1332.4 732.3L1334.0 736.8L1335.6 740.6L1337.2 743.7L1338.8 746.1L1340.4 748.0L1342.0 749.3L1343.6 750.1L1345.2 750.5L1346.8 750.6L1349.8 750.4L1352.8 749.8L1355.7 749.0L1358.7 748.0L1361.7 746.8L1364.7 745.4L1367.7 743.8L1370.6 742.1L1373.6 740.2L1376.6 738.1L1379.6 735.9L1382.5 733.6L1385.5 731.1L1388.5 728.5L1389.7 722.0L1390.2 646.5L1391.1 646.5L1391.7 724.0L1392.7 728.5L1395.1 728.5L1396.3 722.0L1396.9 646.5L1397.8 646.5L1398.4 722.0L1399.5 727.0L1401.1 732.3L1402.7 736.8L1404.3 740.6L1405.9 743.7L1407.5 746.1L1409.1 748.0L1410.7 749.3L1412.3 750.1L1413.9 750.5L1415.5 750.6L1418.5 750.4L1421.5 749.8L1424.4 749.0L1427.4 748.0L1430.4 746.8L1433.4 745.4L1436.3 743.8L1439.3 742.1L1442.3 740.2L1445.3 738.1L1448.3 735.9L1451.2 733.6L1454.2 731.1L1457.2 728.5L1458.4 722.0L1458.9 646.5L1459.8 646.5L1460.4 724.0L1461.4 728.5L1463.8 728.5L1465.0 722.0L1465.6 646.5L1466.5 646.5L1467.1 722.0L1468.2 727.0L1469.8 732.3L1471.4 736.8L1473.0 740.6L1474.6 743.7L1476.2 746.1L1477.8 748.0L1479.4 749.3L1481.0 750.1L1482.6 750.5L1484.2 750.6L1487.2 750.4L1490.2 749.8L1493.1 749.0L1496.1 748.0L1499.1 746.8L1502.1 745.4L1505.1 743.8L1508.0 742.1L1511.0 740.2L1514.0 738.1L1517.0 735.9L1519.9 733.6L1522.9 731.1L1525.9 728.5L1527.1 722.0L1527.6 646.5L1528.5 646.5L1529.1 724.0L1530.1 728.5L1532.5 728.5L1533.7 722.0L1534.3 646.5L1535.2 646.5L1535.8 722.0L1536.9 727.0L1538.5 732.3L1540.1 736.8L1541.7 740.6L1543.3 743.7L1544.9 746.1L1546.5 748.0L1548.1 749.3L1549.7 750.1L1551.3 750.5L1552.9 750.6L1556.7 750.2L1560.5 749.4L1564.4 748.5L1568.2 747.3L1572.0 746.0" fill="none" stroke="#5c8299" stroke-width="1.7" stroke-linejoin="round"/>
<rect x="1009.3" y="624.5" width="563.1" height="128.8" fill="none" stroke="#303030" stroke-width="2.1"/>
<path d="M1010.3 913.8L1016.0 915.3L1023.0 916.4L1026.3 916.3L1029.6 916.0L1032.9 915.6L1036.2 915.1L1039.5 914.5L1042.8 913.9L1046.1 913.1L1049.5 912.4L1052.8 911.5L1056.1 910.6L1059.4 909.7L1062.7 908.7L1066.0 907.6L1069.3 906.5L1072.6 905.4L1075.9 904.2L1078.9 901.5L1080.3 897.0L1081.1 885.0L1081.5 812.0L1082.2 811.0L1084.0 811.0L1084.7 812.0L1085.3 900.0L1085.9 902.3L1089.9 901.7L1093.4 903.0L1095.1 905.2L1096.7 907.1L1098.4 908.9L1100.1 910.5L1101.7 911.9L1103.4 913.1L1105.1 914.2L1106.7 915.0L1108.4 915.7L1110.1 916.1L1111.7 916.4L1113.4 916.5L1119.4 916.5L1122.9 916.4L1126.4 916.1L1129.9 915.7L1133.5 915.2L1137.0 914.6L1140.5 913.9L1144.0 913.2L1147.5 912.4L1151.0 911.6L1154.5 910.7L1158.0 909.7L1161.6 908.7L1165.1 907.7L1168.6 906.6L1172.1 905.4L1175.6 904.2L1178.6 901.5L1180.0 897.0L1180.8 885.0L1181.2 812.0L1181.9 811.0L1183.7 811.0L1184.4 812.0L1185.0 900.0L1185.6 902.3L1189.6 901.7L1193.1 903.0L1194.8 905.2L1196.4 907.1L1198.1 908.9L1199.8 910.5L1201.4 911.9L1203.1 913.1L1204.8 914.2L1206.4 915.0L1208.1 915.7L1209.8 916.1L1211.4 916.4L1213.1 916.5L1219.1 916.5L1222.6 916.4L1226.1 916.1L1229.6 915.7L1233.2 915.2L1236.7 914.6L1240.2 913.9L1243.7 913.2L1247.2 912.4L1250.7 911.6L1254.2 910.7L1257.7 909.7L1261.3 908.7L1264.8 907.7L1268.3 906.6L1271.8 905.4L1275.3 904.2L1278.3 901.5L1279.7 897.0L1280.5 885.0L1280.9 812.0L1281.6 811.0L1283.4 811.0L1284.1 812.0L1284.7 900.0L1285.3 902.3L1289.3 901.7L1292.8 903.0L1294.5 905.2L1296.1 907.1L1297.8 908.9L1299.5 910.5L1301.1 911.9L1302.8 913.1L1304.5 914.2L1306.1 915.0L1307.8 915.7L1309.5 916.1L1311.1 916.4L1312.8 916.5L1318.8 916.5L1322.3 916.4L1325.8 916.1L1329.3 915.7L1332.9 915.2L1336.4 914.6L1339.9 913.9L1343.4 913.2L1346.9 912.4L1350.4 911.6L1353.9 910.7L1357.4 909.7L1361.0 908.7L1364.5 907.7L1368.0 906.6L1371.5 905.4L1375.0 904.2L1378.0 901.5L1379.4 897.0L1380.2 885.0L1380.6 812.0L1381.3 811.0L1383.1 811.0L1383.8 812.0L1384.4 900.0L1385.0 902.3L1389.0 901.7L1392.5 903.0L1394.2 905.2L1395.8 907.1L1397.5 908.9L1399.2 910.5L1400.8 911.9L1402.5 913.1L1404.2 914.2L1405.8 915.0L1407.5 915.7L1409.2 916.1L1410.8 916.4L1412.5 916.5L1418.5 916.5L1422.0 916.4L1425.5 916.1L1429.0 915.7L1432.5 915.2L1436.1 914.6L1439.6 913.9L1443.1 913.2L1446.6 912.4L1450.1 911.6L1453.6 910.7L1457.1 909.7L1460.7 908.7L1464.2 907.7L1467.7 906.6L1471.2 905.4L1474.7 904.2L1477.7 901.5L1479.1 897.0L1479.9 885.0L1480.3 812.0L1481.0 811.0L1482.8 811.0L1483.5 812.0L1484.1 900.0L1484.7 902.3L1488.7 901.7L1492.2 903.0L1493.9 905.2L1495.5 907.1L1497.2 908.9L1498.9 910.5L1500.5 911.9L1502.2 913.1L1503.9 914.2L1505.5 915.0L1507.2 915.7L1508.9 916.1L1510.5 916.4L1512.2 916.5L1518.2 916.5L1522.5 916.4L1526.8 916.1L1531.1 915.7L1535.5 915.2L1539.8 914.6L1544.1 913.9L1548.4 913.2L1552.7 912.4L1557.0 911.6L1561.3 910.7L1565.6 909.7L1570.0 908.7" fill="none" stroke="#a98ab0" stroke-width="1.9" stroke-linejoin="round"/>
<rect x="1009.8" y="774.5" width="562.6" height="144.3" fill="none" stroke="#1c1c1c" stroke-width="2.3"/>
<text x="108.3" y="482.8" font-size="32" textLength="17.9" lengthAdjust="spacingAndGlyphs" fill="#111" stroke="#111" stroke-width="0.3">2</text>
<text x="108.4" y="539.8" font-size="32" textLength="15.2" lengthAdjust="spacingAndGlyphs" fill="#111" stroke="#111" stroke-width="0.3">1</text>
<text x="108.7" y="597.2" font-size="32" textLength="17.1" lengthAdjust="spacingAndGlyphs" fill="#111" stroke="#111" stroke-width="0.3">0</text>
<text x="108.3" y="645.5" font-size="32" textLength="17.9" lengthAdjust="spacingAndGlyphs" fill="#111" stroke="#111" stroke-width="0.3">2</text>
<text x="108.4" y="703.0" font-size="32" textLength="15.2" lengthAdjust="spacingAndGlyphs" fill="#111" stroke="#111" stroke-width="0.3">1</text>
<text x="108.7" y="760.5" font-size="32" textLength="17.1" lengthAdjust="spacingAndGlyphs" fill="#111" stroke="#111" stroke-width="0.3">0</text>
<text x="108.3" y="799.1" font-size="32" textLength="17.9" lengthAdjust="spacingAndGlyphs" fill="#111" stroke="#111" stroke-width="0.3">2</text>
<text x="108.4" y="860.0" font-size="32" textLength="15.2" lengthAdjust="spacingAndGlyphs" fill="#111" stroke="#111" stroke-width="0.3">1</text>
<text x="108.7" y="926.4" font-size="32" textLength="17.1" lengthAdjust="spacingAndGlyphs" fill="#111" stroke="#111" stroke-width="0.3">0</text>
<text x="972.7" y="482.7" font-size="32" textLength="17.8" lengthAdjust="spacingAndGlyphs" fill="#111" stroke="#111" stroke-width="0.3">2</text>
<text x="972.8" y="540.0" font-size="32" textLength="15.2" lengthAdjust="spacingAndGlyphs" fill="#111" stroke="#111" stroke-width="0.3">1</text>
<text x="973.1" y="597.9" font-size="32" textLength="17.0" lengthAdjust="spacingAndGlyphs" fill="#111" stroke="#111" stroke-width="0.3">0</text>
<text x="972.7" y="643.3" font-size="32" textLength="17.8" lengthAdjust="spacingAndGlyphs" fill="#111" stroke="#111" stroke-width="0.3">2</text>
<text x="972.8" y="701.3" font-size="32" textLength="15.2" lengthAdjust="spacingAndGlyphs" fill="#111" stroke="#111" stroke-width="0.3">1</text>
<text x="973.1" y="758.8" font-size="32" textLength="17.0" lengthAdjust="spacingAndGlyphs" fill="#111" stroke="#111" stroke-width="0.3">0</text>
<text x="972.7" y="797.6" font-size="32" textLength="17.8" lengthAdjust="spacingAndGlyphs" fill="#111" stroke="#111" stroke-width="0.3">2</text>
<text x="972.8" y="858.7" font-size="32" textLength="15.2" lengthAdjust="spacingAndGlyphs" fill="#111" stroke="#111" stroke-width="0.3">1</text>
<text x="973.1" y="924.8" font-size="32" textLength="17.0" lengthAdjust="spacingAndGlyphs" fill="#111" stroke="#111" stroke-width="0.3">0</text>
<text x="132.7" y="956.6" font-size="32" textLength="18.0" lengthAdjust="spacingAndGlyphs" fill="#111" stroke="#111" stroke-width="0.3">0</text>
<text x="270.1" y="956.6" font-size="32" textLength="34.7" lengthAdjust="spacingAndGlyphs" fill="#111" stroke="#111" stroke-width="0.3">20</text>
<text x="417.3" y="956.6" font-size="32" textLength="34.6" lengthAdjust="spacingAndGlyphs" fill="#111" stroke="#111" stroke-width="0.3">40</text>
<text x="554.6" y="956.6" font-size="32" textLength="30.5" lengthAdjust="spacingAndGlyphs" fill="#111" stroke="#111" stroke-width="0.3">60</text>
<text x="686.8" y="956.6" font-size="32" textLength="30.2" lengthAdjust="spacingAndGlyphs" fill="#111" stroke="#111" stroke-width="0.3">80</text>
<text x="1001.4" y="958.5" font-size="32" textLength="18.3" lengthAdjust="spacingAndGlyphs" fill="#111" stroke="#111" stroke-width="0.3">0</text>
<text x="1138.5" y="958.5" font-size="32" textLength="18.4" lengthAdjust="spacingAndGlyphs" fill="#111" stroke="#111" stroke-width="0.3">5</text>
<text x="1288.3" y="958.5" font-size="32" textLength="31.5" lengthAdjust="spacingAndGlyphs" fill="#111" stroke="#111" stroke-width="0.3">10</text>
<text x="1425.6" y="958.5" font-size="32" textLength="27.4" lengthAdjust="spacingAndGlyphs" fill="#111" stroke="#111" stroke-width="0.3">15</text>
<text x="1555.9" y="958.5" font-size="32" textLength="29.1" lengthAdjust="spacingAndGlyphs" fill="#111" stroke="#111" stroke-width="0.3">20</text>
<text font-size="30.7" fill="#111" stroke="#111" stroke-width="0.3"><tspan x="356.0" y="994.3" font-size="29.4" fill="#666" stroke="#666" textLength="25.3" lengthAdjust="spacingAndGlyphs">△</tspan><tspan x="384.5" y="999.2" textLength="82.7" lengthAdjust="spacingAndGlyphs">t (ms)</tspan></text>
<text font-size="30.7" fill="#111" stroke="#111" stroke-width="0.3"><tspan x="1258.9" y="988.3" font-size="29.4" fill="#666" stroke="#666" textLength="25.3" lengthAdjust="spacingAndGlyphs">△</tspan><tspan x="1286.8" y="992.3" textLength="83.2" lengthAdjust="spacingAndGlyphs">t (ms)</tspan></text>
<text x="0" y="0" transform="translate(83.9 773.4) rotate(-90)" font-size="29.6" textLength="167.5" lengthAdjust="spacingAndGlyphs" fill="#111" stroke="#111" stroke-width="0.6">Voltage(V)</text>
<text x="0" y="0" transform="translate(952.2 774.7) rotate(-90)" font-size="29.6" textLength="167.6" lengthAdjust="spacingAndGlyphs" fill="#111" stroke="#111" stroke-width="0.6">Voltage(V)</text>
<text x="2.1" y="522.6" font-size="29.6" textLength="38.1" lengthAdjust="spacingAndGlyphs" fill="#111" stroke="#111" stroke-width="0.3">(b)</text>
<text x="721.8" y="517.9" font-size="30.7" textLength="58.3" lengthAdjust="spacingAndGlyphs" fill="#111" stroke="#111" stroke-width="0.3">Fast</text>
<text x="720.0" y="553.0" font-size="30.7" textLength="94.2" lengthAdjust="spacingAndGlyphs" fill="#111" stroke="#111" stroke-width="0.3">1 Spike</text>
<text x="721.7" y="680.8" font-size="30.7" textLength="101.2" lengthAdjust="spacingAndGlyphs" fill="#111" stroke="#111" stroke-width="0.3">Normal</text>
<text x="720.5" y="724.0" font-size="30.7" textLength="94.6" lengthAdjust="spacingAndGlyphs" fill="#111" stroke="#111" stroke-width="0.3">1 Spike</text>
<text x="725.3" y="835.2" font-size="30.7" textLength="65.3" lengthAdjust="spacingAndGlyphs" fill="#111" stroke="#111" stroke-width="0.3">Slow</text>
<text x="721.8" y="876.3" font-size="30.7" textLength="96.0" lengthAdjust="spacingAndGlyphs" fill="#111" stroke="#111" stroke-width="0.3">1 Spike</text>
<text x="1586.0" y="519.8" font-size="30.7" textLength="60.6" lengthAdjust="spacingAndGlyphs" fill="#111" stroke="#111" stroke-width="0.3">Fast</text>
<text x="1588.9" y="555.2" font-size="30.7" textLength="94.9" lengthAdjust="spacingAndGlyphs" fill="#111" stroke="#111" stroke-width="0.3">3 Spike</text>
<text x="1587.8" y="683.5" font-size="30.7" textLength="100.5" lengthAdjust="spacingAndGlyphs" fill="#111" stroke="#111" stroke-width="0.3">Normal</text>
<text x="1588.6" y="727.6" font-size="30.7" textLength="95.3" lengthAdjust="spacingAndGlyphs" fill="#111" stroke="#111" stroke-width="0.3">2 Spike</text>
<text x="1594.6" y="837.8" font-size="30.7" textLength="65.3" lengthAdjust="spacingAndGlyphs" fill="#111" stroke="#111" stroke-width="0.3">Slow</text>
<text x="1591.8" y="880.1" font-size="30.7" textLength="95.2" lengthAdjust="spacingAndGlyphs" fill="#111" stroke="#111" stroke-width="0.3">1 Spike</text>
</g>
<g id="panel-c">
<path d="M140.0 1451.0C145.0 1450.9 162.8 1450.8 170.0 1450.6C177.2 1450.4 179.6 1450.3 183.0 1450.0C186.4 1449.7 187.6 1449.5 190.4 1448.7C193.2 1447.9 195.9 1446.9 200.0 1445.0C204.1 1443.1 210.1 1439.9 214.8 1437.4C219.5 1434.9 223.7 1432.6 228.0 1430.0C232.3 1427.4 237.2 1424.0 240.9 1421.7C244.6 1419.4 247.1 1418.0 250.0 1416.0C252.9 1414.0 255.8 1411.9 258.3 1409.6C260.8 1407.3 262.7 1405.2 265.0 1402.0C267.3 1398.8 270.0 1394.1 272.2 1390.4C274.4 1386.7 276.0 1383.5 278.0 1380.0C280.0 1376.5 282.5 1372.9 284.3 1369.6C286.1 1366.3 287.6 1362.9 289.0 1360.0C290.4 1357.1 291.7 1354.5 293.0 1352.2C294.3 1350.0 295.6 1348.2 297.0 1346.5C298.4 1344.8 300.0 1343.6 301.7 1342.0C303.4 1340.4 305.2 1338.4 307.0 1337.0C308.8 1335.6 310.4 1334.7 312.2 1333.7C314.0 1332.8 316.0 1331.8 318.0 1331.3C320.0 1330.8 322.1 1330.3 324.3 1330.4C326.5 1330.5 328.7 1331.0 331.0 1331.8C333.3 1332.6 335.7 1333.9 338.0 1335.5C340.3 1337.1 342.8 1339.2 345.0 1341.5C347.2 1343.8 349.1 1346.2 351.3 1349.0C353.5 1351.8 355.7 1355.3 358.0 1358.5C360.3 1361.7 362.6 1365.0 365.0 1368.0C367.4 1371.0 369.7 1374.0 372.2 1376.5C374.7 1379.0 377.5 1381.2 380.0 1383.0C382.5 1384.8 384.8 1385.9 387.0 1387.5C389.2 1389.1 390.8 1390.4 393.0 1392.6C395.2 1394.8 397.5 1397.3 400.0 1400.5C402.5 1403.7 405.1 1407.6 408.0 1411.5C410.9 1415.4 414.6 1420.5 417.4 1424.0C420.2 1427.5 422.4 1430.0 425.0 1432.5C427.6 1435.0 430.5 1437.2 433.0 1439.0C435.5 1440.8 437.7 1442.0 440.0 1443.3C442.3 1444.5 444.5 1445.6 447.0 1446.5C449.5 1447.4 452.3 1448.2 455.0 1448.8C457.7 1449.4 460.5 1449.9 463.0 1450.2C465.5 1450.5 463.8 1450.7 470.0 1450.8C476.2 1450.9 495.0 1451.0 500.0 1451.0L500 1451L140 1451Z" fill="#8e97cb" stroke="none"/>
<path d="M140.0 1451.0C145.0 1450.9 162.8 1450.8 170.0 1450.6C177.2 1450.4 179.6 1450.3 183.0 1450.0C186.4 1449.7 187.6 1449.5 190.4 1448.7C193.2 1447.9 195.9 1446.9 200.0 1445.0C204.1 1443.1 210.1 1439.9 214.8 1437.4C219.5 1434.9 223.7 1432.6 228.0 1430.0C232.3 1427.4 237.2 1424.0 240.9 1421.7C244.6 1419.4 247.1 1418.0 250.0 1416.0C252.9 1414.0 255.8 1411.9 258.3 1409.6C260.8 1407.3 262.7 1405.2 265.0 1402.0C267.3 1398.8 270.0 1394.1 272.2 1390.4C274.4 1386.7 276.0 1383.5 278.0 1380.0C280.0 1376.5 282.5 1372.9 284.3 1369.6C286.1 1366.3 287.6 1362.9 289.0 1360.0C290.4 1357.1 291.7 1354.5 293.0 1352.2C294.3 1350.0 295.6 1348.2 297.0 1346.5C298.4 1344.8 300.0 1343.6 301.7 1342.0C303.4 1340.4 305.2 1338.4 307.0 1337.0C308.8 1335.6 310.4 1334.7 312.2 1333.7C314.0 1332.8 316.0 1331.8 318.0 1331.3C320.0 1330.8 322.1 1330.3 324.3 1330.4C326.5 1330.5 328.7 1331.0 331.0 1331.8C333.3 1332.6 335.7 1333.9 338.0 1335.5C340.3 1337.1 342.8 1339.2 345.0 1341.5C347.2 1343.8 349.1 1346.2 351.3 1349.0C353.5 1351.8 355.7 1355.3 358.0 1358.5C360.3 1361.7 362.6 1365.0 365.0 1368.0C367.4 1371.0 369.7 1374.0 372.2 1376.5C374.7 1379.0 377.5 1381.2 380.0 1383.0C382.5 1384.8 384.8 1385.9 387.0 1387.5C389.2 1389.1 390.8 1390.4 393.0 1392.6C395.2 1394.8 397.5 1397.3 400.0 1400.5C402.5 1403.7 405.1 1407.6 408.0 1411.5C410.9 1415.4 414.6 1420.5 417.4 1424.0C420.2 1427.5 422.4 1430.0 425.0 1432.5C427.6 1435.0 430.5 1437.2 433.0 1439.0C435.5 1440.8 437.7 1442.0 440.0 1443.3C442.3 1444.5 444.5 1445.6 447.0 1446.5C449.5 1447.4 452.3 1448.2 455.0 1448.8C457.7 1449.4 460.5 1449.9 463.0 1450.2C465.5 1450.5 463.8 1450.7 470.0 1450.8C476.2 1450.9 495.0 1451.0 500.0 1451.0" fill="none" stroke="#1d469c" stroke-width="2.6"/>
<path d="M280.0 1450.6C280.7 1449.5 282.7 1447.7 284.3 1444.3C285.9 1440.9 287.9 1435.6 289.6 1430.4C291.4 1425.2 293.5 1420.2 294.8 1413.0C296.1 1405.8 296.5 1395.7 297.4 1387.0C298.3 1378.3 299.3 1369.6 300.0 1360.9C300.7 1352.2 301.0 1345.0 301.7 1334.8C302.4 1324.6 303.2 1311.8 304.0 1300.0C304.8 1288.2 305.6 1276.1 306.5 1263.9C307.4 1251.7 308.5 1239.0 309.3 1226.6C310.1 1214.2 310.6 1201.7 311.2 1189.3C311.8 1176.9 312.4 1162.9 313.0 1152.0C313.6 1141.1 314.1 1133.3 314.9 1124.0C315.7 1114.7 316.8 1103.5 317.7 1096.0C318.6 1088.5 319.6 1083.8 320.5 1079.0C321.4 1074.2 322.4 1070.4 323.3 1067.0C324.2 1063.6 325.0 1060.5 325.8 1058.5C326.6 1056.5 327.2 1055.2 327.9 1055.2C328.6 1055.2 329.2 1056.5 330.0 1058.5C330.8 1060.5 331.8 1063.6 332.6 1067.0C333.4 1070.4 334.1 1074.2 334.8 1079.0C335.5 1083.8 336.0 1088.5 336.7 1096.0C337.4 1103.5 338.5 1114.7 339.1 1124.0C339.8 1133.3 340.0 1141.1 340.6 1152.0C341.2 1162.9 342.2 1176.9 342.9 1189.3C343.6 1201.7 344.1 1214.2 344.7 1226.6C345.3 1239.0 346.1 1251.7 346.6 1263.9C347.2 1276.1 347.5 1288.2 348.0 1300.0C348.5 1311.8 348.9 1324.6 349.6 1334.8C350.3 1345.0 351.3 1352.2 352.2 1360.9C353.1 1369.6 353.9 1378.3 354.8 1387.0C355.7 1395.7 356.4 1405.8 357.4 1413.0C358.4 1420.2 359.4 1425.2 360.9 1430.4C362.3 1435.6 364.1 1440.9 366.1 1444.3C368.1 1447.7 371.9 1449.5 373.0 1450.6Z" fill="#cd8dc7" fill-opacity="0.5" stroke="none"/>
<path d="M280.0 1450.6C280.7 1449.5 282.7 1447.7 284.3 1444.3C285.9 1440.9 287.9 1435.6 289.6 1430.4C291.4 1425.2 293.5 1420.2 294.8 1413.0C296.1 1405.8 296.5 1395.7 297.4 1387.0C298.3 1378.3 299.3 1369.6 300.0 1360.9C300.7 1352.2 301.0 1345.0 301.7 1334.8C302.4 1324.6 303.2 1311.8 304.0 1300.0C304.8 1288.2 305.6 1276.1 306.5 1263.9C307.4 1251.7 308.5 1239.0 309.3 1226.6C310.1 1214.2 310.6 1201.7 311.2 1189.3C311.8 1176.9 312.4 1162.9 313.0 1152.0C313.6 1141.1 314.1 1133.3 314.9 1124.0C315.7 1114.7 316.8 1103.5 317.7 1096.0C318.6 1088.5 319.6 1083.8 320.5 1079.0C321.4 1074.2 322.4 1070.4 323.3 1067.0C324.2 1063.6 325.0 1060.5 325.8 1058.5C326.6 1056.5 327.2 1055.2 327.9 1055.2C328.6 1055.2 329.2 1056.5 330.0 1058.5C330.8 1060.5 331.8 1063.6 332.6 1067.0C333.4 1070.4 334.1 1074.2 334.8 1079.0C335.5 1083.8 336.0 1088.5 336.7 1096.0C337.4 1103.5 338.5 1114.7 339.1 1124.0C339.8 1133.3 340.0 1141.1 340.6 1152.0C341.2 1162.9 342.2 1176.9 342.9 1189.3C343.6 1201.7 344.1 1214.2 344.7 1226.6C345.3 1239.0 346.1 1251.7 346.6 1263.9C347.2 1276.1 347.5 1288.2 348.0 1300.0C348.5 1311.8 348.9 1324.6 349.6 1334.8C350.3 1345.0 351.3 1352.2 352.2 1360.9C353.1 1369.6 353.9 1378.3 354.8 1387.0C355.7 1395.7 356.4 1405.8 357.4 1413.0C358.4 1420.2 359.4 1425.2 360.9 1430.4C362.3 1435.6 364.1 1440.9 366.1 1444.3C368.1 1447.7 371.9 1449.5 373.0 1450.6" fill="none" stroke="#95709f" stroke-width="2.5"/>
<rect x="99.1" y="1035.4" width="456" height="416.3" fill="none" stroke="#000" stroke-width="2.6"/>
<rect x="376.3" y="1082.6" width="55.8" height="26.3" fill="#e6c5e3" stroke="#95709f" stroke-width="2.4"/>
<rect x="376.5" y="1136.2" width="55.4" height="25.8" fill="#8e97cb" stroke="#1d469c" stroke-width="3"/>
<text x="445.0" y="1103.9" font-size="24.8" textLength="89.8" lengthAdjust="spacingAndGlyphs" fill="#3a3a3a" stroke="#3a3a3a" stroke-width="0.3">Bursting</text>
<text x="446.7" y="1155.4" font-size="24.8" textLength="36.0" lengthAdjust="spacingAndGlyphs" fill="#3a3a3a" stroke="#3a3a3a" stroke-width="0.3">LIF</text>
<text x="0" y="0" transform="translate(85.2 1272.0) rotate(-90)" font-size="31.5" textLength="101.7" lengthAdjust="spacingAndGlyphs" fill="#111" stroke="#111" stroke-width="0.3">Density</text>
<text x="180.7" y="1490.0" font-size="30.7" textLength="312.8" lengthAdjust="spacingAndGlyphs" fill="#111" stroke="#111" stroke-width="0.3">Spike Width Distribution</text>
<text x="4.6" y="1054.8" font-size="29.6" textLength="35.5" lengthAdjust="spacingAndGlyphs" fill="#111" stroke="#111" stroke-width="0.3">(c)</text>
<path d="M640.0 1454.8C650.0 1454.7 685.2 1454.6 700.0 1454.4C714.8 1454.2 721.2 1453.8 728.7 1453.5C736.2 1453.2 740.2 1452.8 745.0 1452.4C749.8 1452.0 752.8 1452.2 757.3 1451.2C761.8 1450.2 767.2 1448.4 772.0 1446.5C776.8 1444.6 781.3 1442.0 786.0 1439.7C790.7 1437.4 795.2 1435.0 800.0 1432.8C804.8 1430.6 810.8 1428.4 814.6 1426.8C818.4 1425.2 820.1 1424.3 823.0 1423.3C825.9 1422.2 828.1 1421.2 831.8 1420.5C835.5 1419.8 840.2 1419.3 845.0 1419.0C849.8 1418.7 856.3 1418.7 860.5 1418.8C864.7 1418.9 867.1 1419.2 870.0 1419.6C872.9 1420.0 875.0 1420.2 877.7 1421.0C880.4 1421.8 883.1 1423.0 886.0 1424.5C888.9 1426.0 891.6 1427.8 894.8 1429.7C898.0 1431.6 901.6 1434.1 905.0 1436.0C908.4 1437.9 911.1 1439.5 914.9 1441.1C918.7 1442.6 923.2 1444.1 928.0 1445.3C932.8 1446.5 938.6 1447.4 943.6 1448.3C948.6 1449.2 953.2 1450.1 958.0 1450.8C962.8 1451.5 966.5 1452.1 972.2 1452.6C977.9 1453.1 981.0 1453.6 992.3 1454.0C1003.6 1454.4 1032.0 1454.7 1040.0 1454.8L1040 1454.8L640 1454.8Z" fill="#8e97cb" stroke="none"/>
<path d="M640.0 1454.8C650.0 1454.7 685.2 1454.6 700.0 1454.4C714.8 1454.2 721.2 1453.8 728.7 1453.5C736.2 1453.2 740.2 1452.8 745.0 1452.4C749.8 1452.0 752.8 1452.2 757.3 1451.2C761.8 1450.2 767.2 1448.4 772.0 1446.5C776.8 1444.6 781.3 1442.0 786.0 1439.7C790.7 1437.4 795.2 1435.0 800.0 1432.8C804.8 1430.6 810.8 1428.4 814.6 1426.8C818.4 1425.2 820.1 1424.3 823.0 1423.3C825.9 1422.2 828.1 1421.2 831.8 1420.5C835.5 1419.8 840.2 1419.3 845.0 1419.0C849.8 1418.7 856.3 1418.7 860.5 1418.8C864.7 1418.9 867.1 1419.2 870.0 1419.6C872.9 1420.0 875.0 1420.2 877.7 1421.0C880.4 1421.8 883.1 1423.0 886.0 1424.5C888.9 1426.0 891.6 1427.8 894.8 1429.7C898.0 1431.6 901.6 1434.1 905.0 1436.0C908.4 1437.9 911.1 1439.5 914.9 1441.1C918.7 1442.6 923.2 1444.1 928.0 1445.3C932.8 1446.5 938.6 1447.4 943.6 1448.3C948.6 1449.2 953.2 1450.1 958.0 1450.8C962.8 1451.5 966.5 1452.1 972.2 1452.6C977.9 1453.1 981.0 1453.6 992.3 1454.0C1003.6 1454.4 1032.0 1454.7 1040.0 1454.8" fill="none" stroke="#1d469c" stroke-width="2.6"/>
<path d="M828.1 1454.5L830.5 1445.0L833.2 1412.5L836.1 1326.5L838.4 1211.9L840.4 1097.3L842.8 1062.0L844.7 1055.8L846.4 1062.0L848.4 1097.3L850.4 1211.9L853.3 1326.5L856.2 1412.5L857.6 1445.0L858.5 1454.5Z" fill="#cd8dc7" fill-opacity="0.5" stroke="none"/>
<path d="M828.1 1454.5L830.5 1445.0L833.2 1412.5L836.1 1326.5L838.4 1211.9L840.4 1097.3L842.8 1062.0L844.7 1055.8L846.4 1062.0L848.4 1097.3L850.4 1211.9L853.3 1326.5L856.2 1412.5L857.6 1445.0L858.5 1454.5" fill="none" stroke="#9a70a4" stroke-width="2.7" stroke-linejoin="round"/>
<rect x="613.7" y="1037.1" width="449.8" height="418" fill="none" stroke="#000" stroke-width="2.6"/>
<rect x="886" y="1076.2" width="56.4" height="27.1" fill="#e6c5e3" stroke="#95709f" stroke-width="2.4"/>
<rect x="886.3" y="1131.2" width="55.8" height="26.2" fill="#8e97cb" stroke="#1d469c" stroke-width="3"/>
<text x="955.4" y="1098.0" font-size="24.8" textLength="89.5" lengthAdjust="spacingAndGlyphs" fill="#3a3a3a" stroke="#3a3a3a" stroke-width="0.3">Bursting</text>
<text x="956.3" y="1150.9" font-size="24.8" textLength="36.2" lengthAdjust="spacingAndGlyphs" fill="#3a3a3a" stroke="#3a3a3a" stroke-width="0.3">LIF</text>
<text x="0" y="0" transform="translate(597.4 1279.7) rotate(-90)" font-size="31.5" textLength="106.3" lengthAdjust="spacingAndGlyphs" fill="#111" stroke="#111" stroke-width="0.3">Density</text>
<text x="661.8" y="1490.0" font-size="30.7" textLength="375.1" lengthAdjust="spacingAndGlyphs" fill="#111" stroke="#111" stroke-width="0.3">Refractory period Distribution</text>
</g>
<g id="panel-d">
<rect x="1216.9" y="1123.3" width="68.0" height="291.3" fill="#94809a"/>
<rect x="1308.8" y="1246.3" width="69.2" height="87.1" fill="#94809a"/>
<rect x="1439.7" y="1048.9" width="67.7" height="367.9" fill="#6b8fa9"/>
<rect x="1531.7" y="1395.1" width="68.8" height="38.5" fill="#6b8fa9"/>
<rect x="1180.2" y="1035.6" width="450.8" height="418.6" fill="none" stroke="#000" stroke-width="2.8"/>
<path d="M1180.2 1423.7h4.4M1180.2 1391.5h8.2M1180.2 1359.2h4.4M1180.2 1327.0h8.2M1180.2 1294.8h4.4M1180.2 1262.6h8.2M1180.2 1230.3h4.4M1180.2 1198.1h8.2M1180.2 1165.9h4.4M1180.2 1133.6h8.2M1180.2 1101.4h4.4M1180.2 1069.2h8.2M1631 1430.8h-4.4M1631 1407.6h-8.2M1631 1384.5h-4.4M1631 1361.3h-8.2M1631 1338.2h-4.4M1631 1315.0h-8.2M1631 1291.9h-4.4M1631 1268.7h-8.2M1631 1245.6h-4.4M1631 1222.4h-8.2M1631 1199.2h-4.4M1631 1176.1h-8.2M1631 1153.0h-4.4M1631 1129.8h-8.2M1631 1106.7h-4.4M1631 1083.5h-8.2M1631 1060.4h-4.4" stroke="#000" stroke-width="2.4" fill="none"/>
<text x="1084.0" y="1061.2" font-size="29.6" textLength="36.5" lengthAdjust="spacingAndGlyphs" fill="#111" stroke="#111" stroke-width="0.3">(d)</text>
<text x="1137.6" y="1074.4" font-size="29.5" textLength="33.7" lengthAdjust="spacingAndGlyphs" fill="#111" stroke="#111" stroke-width="0.45">1.2</text>
<text x="1136.0" y="1203.0" font-size="29.5" textLength="36.1" lengthAdjust="spacingAndGlyphs" fill="#111" stroke="#111" stroke-width="0.45">0.8</text>
<text x="1136.0" y="1332.4" font-size="29.5" textLength="35.8" lengthAdjust="spacingAndGlyphs" fill="#111" stroke="#111" stroke-width="0.45">0.4</text>
<text x="1136.0" y="1460.6" font-size="29.5" textLength="36.0" lengthAdjust="spacingAndGlyphs" fill="#111" stroke="#111" stroke-width="0.45">0.0</text>
<text x="1637.2" y="1093.5" font-size="29.5" textLength="28.6" lengthAdjust="spacingAndGlyphs" fill="#111" stroke="#111" stroke-width="0.45">16</text>
<text x="1640.6" y="1186.6" font-size="29.5" textLength="27.0" lengthAdjust="spacingAndGlyphs" fill="#111" stroke="#111" stroke-width="0.45">12</text>
<text x="1645.3" y="1278.4" font-size="29.5" textLength="14.2" lengthAdjust="spacingAndGlyphs" fill="#111" stroke="#111" stroke-width="0.45">8</text>
<text x="1645.8" y="1371.0" font-size="29.5" textLength="13.7" lengthAdjust="spacingAndGlyphs" fill="#111" stroke="#111" stroke-width="0.45">4</text>
<text x="1645.4" y="1463.5" font-size="29.5" textLength="14.4" lengthAdjust="spacingAndGlyphs" fill="#111" stroke="#111" stroke-width="0.45">0</text>
<text x="0" y="0" transform="translate(1129.2 1378.4) rotate(-90)" font-size="29.4" textLength="235.1" lengthAdjust="spacingAndGlyphs" fill="#111" stroke="#111" stroke-width="0.3">Spike Width(ms)</text>
<text x="0" y="0" transform="translate(1676.9 1109.6) rotate(90)" font-size="30.4" textLength="311.7" lengthAdjust="spacingAndGlyphs" fill="#111" stroke="#111" stroke-width="0.3">Refractory period(ms)</text>
<text x="1232.2" y="1490.1" font-size="30.7" textLength="39.9" lengthAdjust="spacingAndGlyphs" fill="#111" stroke="#111" stroke-width="0.45">LIF</text>
<text x="1296.0" y="1490.1" font-size="30.7" textLength="100.8" lengthAdjust="spacingAndGlyphs" fill="#111" stroke="#111" stroke-width="0.45">Bursting</text>
<text x="1452.2" y="1490.1" font-size="30.7" textLength="39.9" lengthAdjust="spacingAndGlyphs" fill="#111" stroke="#111" stroke-width="0.45">LIF</text>
<text x="1516.6" y="1490.1" font-size="30.7" textLength="101.7" lengthAdjust="spacingAndGlyphs" fill="#111" stroke="#111" stroke-width="0.45">Bursting</text>
</g>
</svg>
</body></html>
